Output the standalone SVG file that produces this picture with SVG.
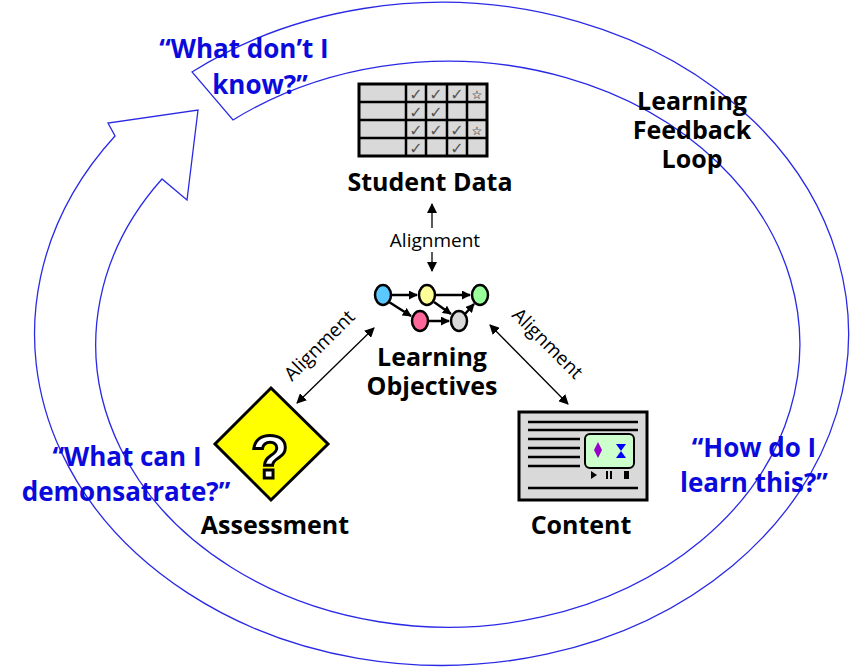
<svg xmlns="http://www.w3.org/2000/svg" width="855" height="669" viewBox="0 0 855 669">
<defs>
<marker id="ah" viewBox="0 0 10 10" refX="9" refY="5" markerWidth="10" markerHeight="10" markerUnits="userSpaceOnUse" orient="auto-start-reverse"><path d="M0,0 L10,5 L0,10 Z" fill="#000"/></marker>
<marker id="sa" viewBox="0 0 10 10" refX="9" refY="5" markerWidth="9" markerHeight="9" markerUnits="userSpaceOnUse" orient="auto"><path d="M0,0 L10,5 L0,10 Z" fill="#000"/></marker>
</defs>
<style>
.q{font-family:"Open Sans","Liberation Sans",Arial,sans-serif;font-weight:bold;font-size:26px;fill:#0a0adc;text-anchor:middle}
.lb{font-family:"Open Sans","Liberation Sans",Arial,sans-serif;font-weight:bold;font-size:25px;fill:#000;text-anchor:middle}
.al{font-family:"Open Sans","Liberation Sans",Arial,sans-serif;font-size:19px;fill:#000;text-anchor:middle}
.ln{stroke:#000;stroke-width:1.3;fill:none;marker-start:url(#ah);marker-end:url(#ah)}
.ck{font-family:"DejaVu Sans",sans-serif;font-size:16px;fill:#555;text-anchor:middle}
.nd{stroke:#000;stroke-width:2.5}
.ea{stroke:#000;stroke-width:2.5;fill:none;marker-end:url(#sa)}
</style>
<g id="loop">
<path d="M192,72 A407,331.5 0 1 1 115,136 L108,123 L198,110 L187,200 L162,179 A352,283 0 1 0 233,120 Z" fill="#fff" stroke="#2a2ae6" stroke-width="1.3"/>
<text class="q" x="244" y="58">“What don’t I</text>
<text class="q" x="260" y="94">know?”</text>
</g>
<g id="title">
<text class="lb" x="692" y="110">Learning</text>
<text class="lb" x="692" y="139">Feedback</text>
<text class="lb" x="692" y="168">Loop</text>
</g>
<g id="student-data">
<rect x="359" y="84" width="128" height="72" fill="#d9d9d9" stroke="#000" stroke-width="3"/>
<path d="M359,102 H487 M359,120 H487 M359,138 H487 M406,84 V156 M426,84 V156 M447,84 V156 M467,84 V156" stroke="#000" stroke-width="2.5"/>
<text class="ck" x="416" y="100">✓</text><text class="ck" x="436" y="100">✓</text><text class="ck" x="457" y="100">✓</text><text class="ck" x="477" y="99" style="font-size:12px;fill:#000">☆</text>
<text class="ck" x="416" y="118">✓</text><text class="ck" x="436" y="118">✓</text>
<text class="ck" x="416" y="136">✓</text><text class="ck" x="436" y="136">✓</text><text class="ck" x="457" y="136">✓</text><text class="ck" x="477" y="135" style="font-size:12px;fill:#000">☆</text>
<text class="ck" x="416" y="154">✓</text><text class="ck" x="457" y="154">✓</text>
<text class="lb" x="430" y="191">Student Data</text>
</g>
<g id="objectives">
<path class="ea" d="M391,295 H417"/>
<path class="ea" d="M436,295 H470"/>
<path class="ea" d="M389,302 L411,316"/>
<path class="ea" d="M429,321 H449"/>
<path class="ea" d="M434,302 L451,314"/>
<path class="ea" d="M465,314 L474,304"/>
<ellipse class="nd" cx="383" cy="295" rx="8" ry="10" fill="#5bc8ff"/>
<ellipse class="nd" cx="427" cy="295" rx="8" ry="10" fill="#ffff99"/>
<ellipse class="nd" cx="480" cy="295" rx="8" ry="10" fill="#99ff99"/>
<ellipse class="nd" cx="420" cy="321" rx="8" ry="10" fill="#ff6699"/>
<ellipse class="nd" cx="459" cy="321" rx="8" ry="10" fill="#d9d9d9"/>
<text class="lb" x="432" y="366">Learning</text>
<text class="lb" x="432" y="395">Objectives</text>
</g>
<g id="assessment">
<path d="M271,388 L328,444 L271,500 L215,444 Z" fill="#ffff00" stroke="#000" stroke-width="3"/>
<text x="270" y="478" font-family="Liberation Sans,Arial,sans-serif" font-weight="bold" font-size="62" text-anchor="middle" fill="#fff" stroke="#000" stroke-width="3">?</text>
<text class="lb" x="275" y="534">Assessment</text>
</g>
<g id="content">
<rect x="519" y="412" width="128" height="88" fill="#d9d9d9" stroke="#000" stroke-width="3"/>
<path d="M528,422 H638 M528,430 H638 M528,439 H580 M528,448 H580 M528,457 H580 M528,466 H580 M528,488 H638" stroke="#000" stroke-width="2.5"/>
<rect x="585" y="434" width="49" height="34" rx="5" fill="#ccffcc" stroke="#000" stroke-width="2"/>
<path d="M598,442 L602,450 L598,458 L594,450 Z" fill="#9900cc"/>
<path d="M616,444 H626 L621,451 L626,458 H616 L621,451 Z" fill="#0000ff"/>
<path d="M591,471 L597,475 L591,479 Z M606,471 h2 v8 h-2 Z M610,471 h2 v8 h-2 Z M624,471 h5 v8 h-5 Z" fill="#000"/>
<text class="lb" x="581" y="534">Content</text>
</g>
<g id="connectors">
<path class="ln" d="M432,204 V271"/>
<rect x="384" y="228" width="102" height="24" fill="#fff"/>
<text class="al" x="435" y="247">Alignment</text>
<path class="ln" d="M297,403 L374,328"/>
<text class="al" transform="translate(324,350) rotate(-45)">Alignment</text>
<path class="ln" d="M490,325 L568,404"/>
<text class="al" transform="translate(543,348) rotate(45)">Alignment</text>
</g>
<g id="quotes">
<text class="q" x="127" y="466">“What can I</text>
<text class="q" x="126" y="501">demonsatrate?”</text>
<text class="q" x="754" y="457">“How do I</text>
<text class="q" x="754" y="492">learn this?”</text>
</g>
</svg>
